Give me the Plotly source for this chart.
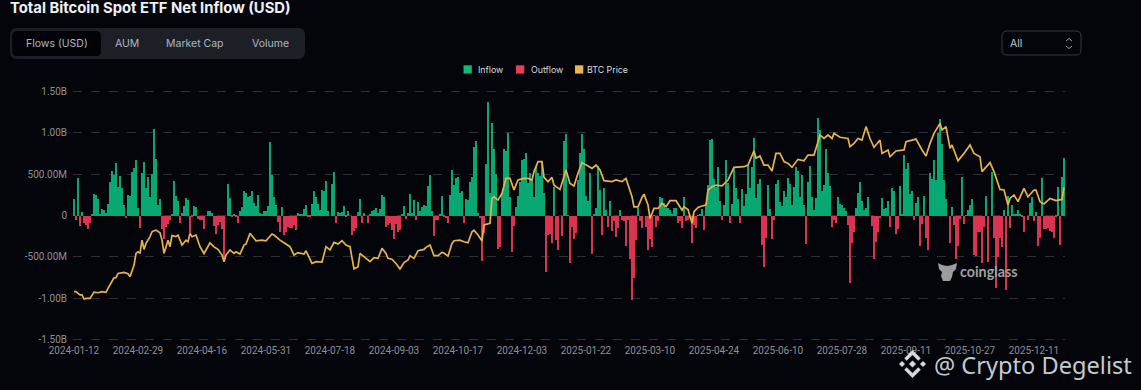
import plotly.graph_objects as go

TICK_LABELS = ["2024-01-12","2024-02-29","2024-04-16","2024-05-31","2024-07-18","2024-09-03","2024-10-17","2024-12-03",
               "2025-01-22","2025-03-10","2025-04-24","2025-06-10","2025-07-28","2025-09-11","2025-10-27","2025-12-11"]
TICK_STEP = 32
Y_TICKS = [1500,1000,500,0,-500,-1000,-1500]
Y_TEXT = ["1.50B","1.00B","500.00M","0","-500.00M","-1.00B","-1.50B"]

# net flows, million USD
flows_a = [200,-60,450,-125,45,-90,-115,-160,-95,10,255,245,200,20,75,65,35,140,405,540,495,635,340,480,330,130,-35,245,230,520,575,675,90,-145,
515,650,330,465,225,505,1045,685,130,200,-160,-280,-140,-100,-55,15,415,240,180,-85,35,110,215,190,-215,-10,120,100,-45,-60,-55,-165,0,60,60,35,
-125,-225,-115,-75,-165,-560,0,375,215,-20,10,-12,-85,60,100,300,270,220,240,300,155,110,250,30,20,50,50,110,890,490,220,130,-75,-205,100,-230,
-195,-140,-155,-145,-115,-175,30,20,15,75,130,-15,-20,140,295,220,140,70,310,300,420,60,0,385,530,-85,45,30,45,115,-20,50,0,-240,-190,-155,45,200,
-95,35,0,-85,10,50,70,85,35,75,245,220,-135,-115,-85,-175,-285,-100,-205]
flows_b = [-170,20,110,-45,30,265,35,185,-50,160,50,100,130,110,360,495,60,-245,-60,-60,20,230,-20,-30,-85,250,555,370,450,465,270,290,-85,200,190,400,465,830,900,30,
-30,-545,-215,620,1365,270,1120,800,505,-405,-375,270,805,775,1000,220,-440,-125,100,230,400,675,685,750,390,510,430,220,595,510,480,650,270,-680,-235,-220,-335,350,-295,-415,
0,-245,905,980,5,-570,-140,-285,-215,425,755,980,805,240,180,510,-465,10,90,595,310,-240,330,70,-140,170,-190,-70,-255,-155,70,-60,-70,-370,-60,-520,-1015,-760,-295,90,
-70,-145,0,-140,-415,-285,-375,5,-135,-70,220,210,150,90,90,70,20,90,90,-95,-70,-155,220,-70,-60,-30,-330,-115,-155,5,20,75,-170,150,370,910,920,440,350,590,170,-60,130,675,
390,-85,140,590,330,200,-95,320,115,265,615,330,590,940,210,385]
flows_c = [435,-355,-620,-275,370,80,-285,-50,385,430,160,110,300,220,450,380,130,350,580,540,220,490,130,-350,400,600,220,70,210,1180,1030,290,370,800,510,360,-135,-60,-85,220,140,130,90,55,
-115,-815,-330,-200,90,270,400,170,70,90,220,0,-125,-520,-320,-200,-30,215,75,85,170,-135,330,300,-225,-165,360,20,730,560,640,265,290,-50,150,220,-370,-105,240,-275,-420,510,440,670,430,1000,1170,860,430,200,
0,-330,100,-115,-530,-370,-45,470,-105,5,70,130,205,-480,-490,-195,-195,-570,-135,230,-560,0,520,-275,-870,-500,-275,-375,70,-900,240,-155,130,15,20,70,20,-10,-195,0,-60,150,220,-70,45,-365,-275,450,-160,-165,-150,-190,-195,-275,-20,350,-355,470,690]

# BTC price, thousand USD, sampled at bar positions
btc_pos = [0,1,2,3,4,5,6,8,10,11,12,14,16,17,19,20,21,22,25,27,28,30,31,32,33,34,35,36,38,39,40,41,43,44,45,47,48,49,51,52,54,56,57,58,59,61,63,65,66,68,70,72,74,75,76,78,80,81,83,85,86,88,90,91,94,96,99,100,103,105,108,110,112,115,116,119,121,124,126,128,130,132,134,136,138,140,142,143,145,148,150,152,154,156,157,159,161,
163,165,167,168,170,172,175,176,178,180,182,184,185,187,189,190,193,195,197,199,200,202,204,205,208,209,210,212,214,216,218,220,222,225,227,229,230,232,234,235,237,239,240,243,245,246,248,250,252,254,257,259,261,263,265,269,271,274,276,279,280,282,284,285,287,288,290,292,294,296,298,301,304,305,307,309,310,312,314,316,317,319,321,324,327,330,335,337,340,341,
343,345,347,349,351,353,355,357,359,362,365,367,370,373,375,377,379,380,383,387,388,390,392,394,396,398,400,403,404,407,408,411,415,416,419,421,424,426,428,430,433,434,436,438,439,442,445,448,450,453,454,456,458,460,463,465,467,468,470,472,475,477,480,481,483,485,488,491,494,495]
btc_price = [43.1,43.1,42.3,41.5,41.5,39.5,39.8,39.8,42.9,42.9,42.6,43.1,42.8,44.7,48,49.9,50,52,52.5,51.9,50.4,56,61.8,62.6,61.8,68.3,63.8,66.7,70,72.4,72.9,73.2,71.9,68.3,61.8,68.3,65.1,70.5,70,70.8,65.9,68.3,67.5,71.6,70,70.8,65.1,61.8,63.5,67,65,63.8,61,57.8,61,63.5,61.8,62.6,61.5,65.9,66.4,71.6,69.2,68,68.3,68,71.3,70.8,68.3,67,65.1,61,62.2,61.5,63.1,56.9,57.8,57.6,65.1,63.5,67.2,66.4,68,65.9,65.1,54.2,55.3,61.8,60.2,57.8,59.7,59.4,64.3,61.8,59.4,59,56.9,
54.2,57.3,58.6,60.7,59.4,63.1,63.8,64.8,65.9,60.7,60.7,62.3,62,60.5,66.7,68,68.3,67.5,67,72.4,73.2,70.8,67.9,75.7,76.5,88.7,89.5,87.9,91.2,98.5,98.5,92.8,97.7,98.5,98.5,97.7,101.8,106.7,106.7,99,96.9,99,95.2,93.1,99.3,102.6,96,94.8,101,106.2,104.5,103.4,105,102.6,97.4,96.9,97.7,96.9,98.5,89.5,84.6,84.6,89.2,90.8,85.5,78.9,83.8,83.8,86.3,84.6,87.6,87.6,83,84.6,83.3,76.5,82.2,84.3,85,85.5,92.8,94.4,95.2,94.9,97.7,103.9,104.2,105,112,108.3,
109.4,105,105,102.1,110.7,110.7,106.7,105.8,103.9,107.8,107.1,109.9,109.9,119.7,118,119.7,118,120.5,118.6,118,114,115.6,118,117.2,123.8,118,113.7,117.2,110.7,112.4,109.1,111.9,112.4,116.4,117.2,117.7,112.4,109.4,115.6,120.5,125.4,122.1,123.8,113.2,114.8,107.1,110.7,114.8,110.7,109.1,101.8,104.2,106.2,101.8,93.1,92.8,85.5,88.7,90.4,87.1,93.6,89.5,92.8,92.8,87.1,86,88.7,87.6,88.2,94.1]

flows = flows_a + flows_b + flows_c

L, R, T, B = 73, 1065, 90, 341
W, H = 1141, 390
px = lambda x: (x - L) / (R - L)
py = lambda y: (B - y) / (B - T)

idx = list(range(len(flows)))
inflow_x = [i for i in idx if flows[i] > 0]
inflow_y = [flows[i] * 1e6 for i in inflow_x]
outflow_x = [i for i in idx if flows[i] < 0]
outflow_y = [flows[i] * 1e6 for i in outflow_x]

fig = go.Figure()
fig.add_bar(x=inflow_x, y=inflow_y, name="Inflow", marker=dict(color="#07A871", line_width=0), width=0.66)
fig.add_bar(x=outflow_x, y=outflow_y, name="Outflow", marker=dict(color="#DC3350", line_width=0), width=0.66)
fig.add_scatter(x=btc_pos, y=[p * 1000 for p in btc_price], name="BTC Price", yaxis="y2", mode="lines",
                line=dict(color="#E6B44C", width=1.7))

shapes, notes = [], []
def rect(x0, y0, x1, y1, fill, line=None, r=0):
    a, b, c, d = px(x0), py(y0), px(x1), py(y1)
    if r:
        rx, ry = r / (R - L), r / (B - T)
        path = (f"M {a+rx} {b} L {c-rx} {b} Q {c} {b} {c} {b-ry} L {c} {d+ry} Q {c} {d} {c-rx} {d} "
                f"L {a+rx} {d} Q {a} {d} {a} {d+ry} L {a} {b-ry} Q {a} {b} {a+rx} {b} Z")
        shapes.append(dict(type="path", xref="paper", yref="paper", path=path, fillcolor=fill,
                           line=dict(color=line or fill, width=1 if line else 0), layer="below"))
    else:
        shapes.append(dict(type="rect", xref="paper", yref="paper", x0=a, y0=b, x1=c, y1=d, fillcolor=fill,
                           line=dict(width=0), layer="above"))
def text(x, y, s, size, color, anchor="left", font="Inter", bold=False):
    if anchor == "left":
        x -= 2
    notes.append(dict(xref="paper", yref="paper", x=px(x), y=py(y), text=f"<b>{s}</b>" if bold else s, showarrow=False,
                      xanchor=anchor, yanchor="middle", font=dict(size=size, color=color, family=font)))
def poly(points, fill=None, line=None, width=1):
    p = "M " + " L ".join(f"{px(a)} {py(b)}" for a, b in points) + (" Z" if fill else "")
    shapes.append(dict(type="path", xref="paper", yref="paper", path=p, fillcolor=fill or "rgba(0,0,0,0)",
                       line=dict(color=line or "rgba(0,0,0,0)", width=width), layer="above"))

text(10, 8, "Total Bitcoin Spot ETF Net Inflow (USD)", 14.8, "#EEF1F5", bold=True)
rect(10, 28, 305, 59, "#1C1F25", r=7)
rect(12, 31, 101, 56, "#020306", r=5)
for cx, s in [(57, "Flows (USD)"), (127, "AUM"), (195, "Market Cap"), (270, "Volume")]:
    text(cx, 43.5, s, 10.5, "#AEB6C2", anchor="center")
rect(1002, 31, 1081, 55, "#03050A", line="#35383E", r=5)
text(1010, 43.5, "All", 10.5, "#C4C7CC")
poly([(1066, 41), (1069, 38.5), (1072, 41)], line="#9A9DA2")
poly([(1066, 46), (1069, 48.5), (1072, 46)], line="#9A9DA2")

for x, tx, color, label in [(463.5, 478, "#10B878", "Inflow"), (516, 530.5, "#E93D58", "Outflow"), (575, 587, "#E9B64A", "BTC Price")]:
    rect(x, 65.3, x + 8.3, 73.6, color)
    text(tx, 69.5, label, 8.8, "#D8DBDF", font="Inter")

# watermarks
poly([(938,263),(942,265),(947,266),(952,265),(957,263),(956,269),(953,272),(952,277),(950,281),(943,281),(941,276),(942,272),(939,269)], fill="#9C9C9C")
text(960, 271.5, "coinglass", 14.3, "#A0A0A0", font="Lato", bold=True)
poly([(905.5, 359.5), (912.5, 352.5), (919.5, 359.5)], line="#D6D8DB", width=3.5)
poly([(905.5, 368.5), (912.5, 375.5), (919.5, 368.5)], line="#D6D8DB", width=3.5)
for cx, cy, s in [(902, 364, 3), (923, 364, 3), (912.5, 364, 3.5)]:
    poly([(cx, cy - s), (cx + s, cy), (cx, cy + s), (cx - s, cy)], fill="#D6D8DB")
text(933.5, 365, "@ Crypto Degelist", 23.6, "#C6C9CD", font="Noto Sans")

fig.update_layout(
    width=W, height=H, autosize=False, margin=dict(l=L, r=W - R, t=T, b=H - B),
    paper_bgcolor="#03050A", plot_bgcolor="#03050A", showlegend=False, barmode="overlay", bargap=0,
    shapes=shapes, annotations=notes,
    font=dict(family="Roboto", color="#8E9196"),
    xaxis=dict(range=[-0.5, 495.5], tickmode="array", tickvals=[i * TICK_STEP for i in range(len(TICK_LABELS))],
               ticktext=TICK_LABELS, showgrid=False, zeroline=False, showline=False, ticks="", ticklabeloverflow="allow",
               ticklabelstandoff=2, tickfont=dict(size=10, color="#8E9196", family="Roboto")),
    yaxis=dict(range=[-1.5157e9, 1.5157e9], tickmode="array", tickvals=[v * 1e6 for v in Y_TICKS], ticktext=Y_TEXT,
               gridcolor="#2C2F35", griddash="dash", gridwidth=1, zeroline=False, showline=False, ticks="",
               ticklabelstandoff=5, tickfont=dict(size=10, color="#8E9196", family="Roboto")),
    yaxis2=dict(range=[19000, 141700], overlaying="y", side="right", visible=False, showgrid=False),
)
fig.write_html("out.html", config={"displayModeBar": False},
               post_script="document.body.style.margin='0';document.body.style.background='#03050A';")
